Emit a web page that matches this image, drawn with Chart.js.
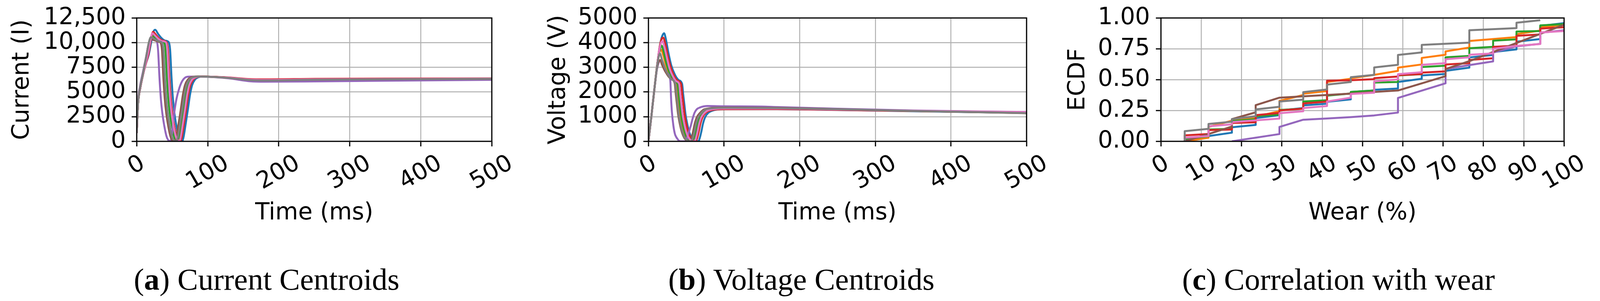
<!DOCTYPE html>
<html><head><meta charset="utf-8">
<script src="https://cdn.jsdelivr.net/npm/chart.js@4/dist/chart.umd.min.js"></script>
<style>
html,body{margin:0;padding:0;background:#fff;width:100%;height:771px;overflow:hidden;position:relative}
canvas{position:absolute;top:0}
.cap{position:absolute;top:676px;text-align:center;font-family:'Liberation Serif',serif;font-size:79px;line-height:80px;color:#000;white-space:nowrap}
</style></head><body>
<canvas id="ca"></canvas>
<canvas id="cb"></canvas>
<canvas id="cc"></canvas>
<div class="cap" id="capa">(<b>a</b>) Current Centroids</div>
<div class="cap" id="capb">(<b>b</b>) Voltage Centroids</div>
<div class="cap" id="capc">(<b>c</b>) Correlation with wear</div>
<script>
// ---------- data ----------
const seriesNames = ['Centroid 1','Centroid 2','Centroid 3','Centroid 4','Centroid 5','Centroid 6','Centroid 7','Centroid 8'];
const seriesColors = ['#1f77b4','#ff7f0e','#2ca02c','#d62728','#9467bd','#8c564b','#e377c2','#7f7f7f'];

const timeTickLabels = ['0','100','200','300','400','500'];
const wearTickLabels = ['0','10','20','30','40','50','60','70','80','90','100'];
const currentTickLabels = ['0','2500','5000','7500','10,000','12,500'];
const voltageTickLabels = ['0','1000','2000','3000','4000','5000'];
const ecdfTickLabels = ['0.00','0.25','0.50','0.75','1.00'];

// Current centroids: [time ms, current]
const currentBlue = [[0,850],[2,3900],[5,5400],[9,6800],[13,7900],[17,8800],[20,9900],[23,11000],[26,11300],[30,10900],[35,10450],[40,10200],[45,10050],[47,9300],[49,6500],[51,4300],[53,2900],[56,1500],[59,500],[62,80],[64,20],[66,450],[69,1800],[72,3200],[75,4700],[78,5700],[82,6250],[87,6500],[93,6570],[100,6560],[130,6450],[160,6260],[180,6230],[250,6290],[350,6330],[500,6360]];
const currentOrange = [[0,850],[2,3900],[5,5400],[9,6800],[13,8100],[17,9600],[20,10500],[22,10650],[26,10450],[31,10200],[35,10080],[39,10000],[41,9300],[43,6500],[45,4300],[47,2900],[50,1500],[53,500],[56,80],[58,20],[60,450],[63,1800],[66,3200],[69,4700],[72,5700],[76,6250],[81,6500],[87,6570],[100,6560],[130,6440],[160,6250],[180,6220],[250,6280],[350,6310],[500,6340]];
const currentGreen = [[0,850],[2,3900],[5,5400],[9,6800],[13,8100],[17,9500],[20,10500],[22,10750],[26,10500],[31,10250],[35,10100],[38.5,10000],[40.5,9300],[42.5,6500],[44.5,4300],[46.5,2900],[49.5,1500],[52.5,500],[55.5,80],[58.5,20],[60.5,450],[63.5,1800],[66.5,3200],[69.5,4700],[72.5,5700],[76.5,6250],[81.5,6500],[87.5,6570],[100,6560],[130,6440],[160,6240],[180,6210],[250,6270],[350,6310],[500,6330]];
const currentRed = [[0,850],[2,3900],[5,5400],[9,6800],[13,7900],[17,9000],[20,10300],[23,11100],[27,10800],[32,10400],[37,10200],[42,10050],[44,9300],[46,6500],[48,4300],[50,2900],[53,1500],[56,500],[59,80],[61.5,20],[63.5,450],[66.5,1800],[69.5,3200],[72.5,4700],[75.5,5700],[79.5,6250],[84.5,6500],[90.5,6570],[100,6560],[130,6470],[160,6300],[180,6280],[250,6330],[350,6360],[500,6370]];
const currentPurple = [[0,850],[2,4100],[5,5700],[9,7100],[13,8500],[17,9900],[20,10400],[24,10250],[28,10150],[30,9300],[32,6500],[34,4300],[36,2900],[39,1500],[42,500],[45,80],[47.5,20],[49.5,700],[52.5,2700],[56,4300],[60,5400],[64,6100],[68,6450],[74,6560],[100,6540],[130,6380],[160,6080],[180,6040],[250,6070],[350,6140],[500,6230]];
const currentBrown = [[0,850],[2,3900],[5,5500],[9,6900],[13,8400],[17,9900],[20,10350],[25,10250],[30,10100],[33.5,10000],[35.5,9300],[37.5,6500],[39.5,4300],[41.5,2900],[44.5,1500],[47.5,500],[50.5,80],[54,20],[56,450],[59,1800],[62,3200],[65,4700],[68,5700],[72,6250],[77,6500],[83,6570],[100,6550],[130,6430],[160,6220],[180,6190],[250,6250],[350,6300],[500,6330]];
const currentPink = [[0,850],[2,3900],[5,5400],[9,6800],[13,8000],[17,9300],[20,10500],[22,10950],[26,10700],[31,10350],[36,10150],[41,10050],[43,9300],[45,6500],[47,4300],[49,2900],[52,1500],[55,500],[58,80],[60,20],[62,450],[65,1800],[68,3200],[71,4700],[74,5700],[78,6250],[83,6500],[89,6570],[100,6560],[130,6450],[160,6250],[180,6220],[250,6280],[350,6320],[500,6340]];
const currentGray = [[0,850],[2,3900],[5,5500],[9,6900],[13,8400],[17,10000],[20,10550],[24,10400],[29,10200],[33,10100],[35.5,10000],[37.5,9300],[39.5,6500],[41.5,4300],[43.5,2900],[46.5,1500],[49.5,500],[52.5,80],[56,20],[58,450],[61,1800],[64,3200],[67,4700],[70,5700],[74,6250],[79,6500],[85,6570],[100,6550],[130,6420],[160,6200],[180,6160],[250,6240],[350,6290],[500,6320]];

// Voltage centroids: [time ms, voltage]
const voltageBlue = [[0,0],[4,1050],[8,2150],[12,3200],[15,3850],[18,4250],[20.7,4380],[23,4150],[26,3650],[30,3100],[35,2700],[40,2480],[44.5,2330],[46,1900],[47.5,1500],[49,1100],[51,750],[54,370],[57,150],[60,40],[63,0],[66,0],[68,150],[70,400],[72,700],[75,980],[79,1150],[85,1250],[100,1300],[170,1300],[250,1270],[350,1220],[500,1150]];
const voltageOrange = [[0,0],[4,1050],[8,2150],[12,3200],[14.5,3600],[16.6,3720],[19.5,3500],[23,3100],[27,2780],[31,2550],[34.5,2420],[37.5,2330],[39,1900],[40.5,1500],[42,1100],[44,750],[47,370],[50,150],[53,40],[56,0],[59,0],[61,150],[63,400],[65,700],[68,980],[72,1150],[78,1290],[100,1345],[170,1340],[250,1290],[350,1230],[500,1160]];
const voltageGreen = [[0,0],[4,1050],[8,2150],[12,3200],[15,3700],[17.3,3880],[20,3650],[23,3250],[27,2850],[32,2550],[35.5,2420],[38.6,2330],[40.1,1900],[41.6,1500],[43.1,1100],[45.1,750],[48.1,370],[51.1,150],[54.1,40],[57,0],[59.2,0],[61.2,150],[63.2,400],[65.2,700],[68.2,980],[72.2,1150],[78.2,1280],[100,1340],[170,1335],[250,1290],[350,1230],[500,1160]];
const voltageRed = [[0,0],[4,1050],[8,2150],[12,3200],[15,3850],[17.5,4150],[19.5,4200],[22,4000],[25,3550],[29,3050],[34,2650],[39,2450],[43.2,2320],[44.7,1900],[46.2,1500],[47.7,1100],[49.7,750],[52.7,370],[55.7,150],[58.7,40],[61,0],[62.6,0],[64.6,150],[66.6,400],[68.6,700],[71.6,980],[75.6,1150],[81.6,1250],[100,1300],[170,1305],[250,1275],[350,1225],[500,1160]];
const voltagePurple = [[0,0],[4,1050],[8,2150],[11.5,2950],[16,3290],[19,3050],[23,2800],[28.8,2500],[30,1700],[31,1200],[33,630],[35,300],[37,160],[42,0],[49,0],[51,140],[53.5,380],[56,630],[58.5,930],[61,1160],[64,1300],[68,1370],[78,1430],[100,1420],[150,1410],[170,1390],[250,1320],[350,1250],[500,1190]];
const voltageBrown = [[0,0],[4,1050],[8,2150],[11.5,3000],[15.5,3290],[18,3100],[22,2850],[28,2580],[34.7,2350],[36.2,1900],[37.7,1500],[39.2,1100],[41.2,750],[44.2,370],[47.2,150],[50.2,40],[53,0],[55.1,0],[57.1,150],[59.1,400],[61.1,700],[64.1,980],[68.1,1150],[74.1,1300],[100,1370],[170,1355],[250,1300],[350,1230],[500,1140]];
const voltagePink = [[0,0],[4,1050],[8,2150],[12,3200],[15,3800],[18.3,4060],[21,3850],[24,3450],[28,2950],[33,2600],[37,2430],[40.6,2330],[42.1,1900],[43.6,1500],[45.1,1100],[47.1,750],[50.1,370],[53.1,150],[56.1,40],[59,0],[61,0],[63,150],[65,400],[67,700],[70,980],[74,1150],[80,1270],[100,1330],[170,1330],[250,1290],[350,1240],[500,1185]];
const voltageGray = [[0,0],[4,1050],[8,2150],[12,3150],[15.2,3560],[18,3300],[22,2950],[26,2700],[30,2520],[35.5,2330],[37,1900],[38.5,1500],[40,1100],[42,750],[45,370],[48,150],[51,40],[54,0],[56.8,0],[58.8,150],[60.8,400],[62.8,700],[65.8,980],[69.8,1150],[75.8,1300],[100,1360],[170,1350],[250,1300],[350,1230],[500,1145]];

// ECDF vs wear: value just before (lo) and just after (hi) each wear step
const wearSteps = [5.9, 11.8, 17.6, 23.5, 29.4, 35.3, 41.2, 47.1, 52.9, 58.8, 64.7, 70.6, 76.5, 82.4, 88.2, 94.1, 100];
const ecdfBlueLo = [0, 0.039, 0.07, 0.133, 0.212, 0.27, 0.305, 0.34, 0.412, 0.428, 0.507, 0.546, 0.597, 0.70, 0.745, 0.829, 0.958];
const ecdfBlueHi = [0.012, 0.043, 0.114, 0.188, 0.25, 0.291, 0.32, 0.40, 0.418, 0.481, 0.534, 0.571, 0.68, 0.724, 0.808, 0.935, 0.958];
const ecdfOrangeLo = [0, 0.029, 0.167, 0.191, 0.244, 0.375, 0.407, 0.507, 0.539, 0.571, 0.623, 0.702, 0.760, 0.829, 0.845, 0.898, 0.945];
const ecdfOrangeHi = [0, 0.117, 0.173, 0.20, 0.328, 0.386, 0.481, 0.51, 0.539, 0.597, 0.676, 0.729, 0.813, 0.829, 0.869, 0.924, 0.945];
const ecdfGreenLo = [0, 0.04, 0.101, 0.18, 0.217, 0.265, 0.333, 0.388, 0.412, 0.481, 0.544, 0.613, 0.692, 0.766, 0.827, 0.894, 0.95];
const ecdfGreenHi = [0.02, 0.096, 0.164, 0.205, 0.254, 0.323, 0.37, 0.40, 0.476, 0.534, 0.602, 0.681, 0.755, 0.816, 0.890, 0.94, 0.95];
const ecdfRedLo = [0, 0.059, 0.096, 0.154, 0.23, 0.265, 0.322, 0.495, 0.504, 0.525, 0.545, 0.567, 0.634, 0.673, 0.775, 0.866, 0.925];
const ecdfRedHi = [0.048, 0.091, 0.149, 0.212, 0.25, 0.307, 0.491, 0.495, 0.512, 0.536, 0.557, 0.623, 0.66, 0.766, 0.855, 0.914, 0.925];
const ecdfPurpleLo = [null, null, 0, null, 0.059, 0.175, 0.185, 0.196, 0.21, 0.233, null, 0.47, 0.618, 0.648, 0.77, 0.79, 0.9];
const ecdfPurpleHi = [null, null, 0, null, 0.117, 0.175, 0.185, 0.196, 0.21, 0.352, null, 0.586, 0.618, 0.72, 0.77, 0.88, 0.9];
const ecdfBrownLo = [0, 0.059, 0.12, 0.235, 0.354, 0.365, 0.376, 0.387, 0.40, 0.412, null, 0.528, 0.65, null, null, null, 0.945];
const ecdfBrownHi = [0, 0.059, 0.18, 0.293, 0.354, 0.365, 0.376, 0.387, 0.40, 0.412, null, 0.586, 0.65, null, null, null, 0.945];
const ecdfPinkLo = [0, 0.043, 0.138, 0.17, 0.184, 0.244, 0.286, 0.354, 0.394, 0.502, 0.56, 0.634, 0.681, 0.713, 0.774, 0.789, 0.894];
const ecdfPinkHi = [0.029, 0.122, 0.156, 0.17, 0.228, 0.27, 0.323, 0.384, 0.486, 0.544, 0.62, 0.665, 0.702, 0.75, 0.774, 0.882, 0.894];
const ecdfGrayLo = [0, 0.101, 0.159, 0.204, 0.280, 0.338, 0.420, 0.481, 0.539, 0.620, 0.721, null, 0.800, null, 0.918, 0.982, null];
const ecdfGrayHi = [0.082, 0.141, 0.180, 0.259, 0.323, 0.399, 0.460, 0.520, 0.599, 0.700, 0.782, null, 0.900, null, 0.961, 0.982, null];

// ---------- layout (reference pixel space, 4169 wide; scaled to the window) ----------
const REF_W = 4169;
const kx = (window.innerWidth || REF_W) / REF_W;
const R = v => Math.round(v * kx);
const FONT = 'DejaVu Sans';
const FS = 60;
const CANVAS_H = 600;
const PLOT_TOP = 46, PLOT_BOTTOM = 362;

function toXY(arr){ return arr.map(p => ({x:p[0], y:p[1]})); }
function stepPoints(lo, hi){
  const pts = [];
  wearSteps.forEach((x,k) => {
    if (lo[k] === null) return;
    pts.push({x:x, y:lo[k]});
    if (hi[k] !== lo[k]) pts.push({x:x, y:hi[k]});
  });
  return pts;
}
function makeDatasets(list, smooth){
  return list.map((pts,i) => ({
    label: seriesNames[i],
    data: pts,
    borderColor: seriesColors[i],
    backgroundColor: seriesColors[i],
    borderWidth: 5,
    pointRadius: 0,
    fill: false,
    tension: 0,
    cubicInterpolationMode: smooth ? 'monotone' : 'default',
    borderJoinStyle: 'round',
    order: 8 - i
  }));
}

const decor = {
  id: 'decor',
  afterDraw(chart, args, o){
    const ctx = chart.ctx, a = chart.chartArea;
    ctx.save();
    ctx.strokeStyle = '#000'; ctx.lineWidth = 3;
    ctx.strokeRect(a.left, a.top, a.right - a.left, a.bottom - a.top);
    const xs = chart.scales.x;
    ctx.font = FS + 'px "' + FONT + '"';
    ctx.fillStyle = '#000';
    ctx.textAlign = 'center';
    ctx.textBaseline = 'middle';
    const th = 30 * Math.PI / 180;
    xs.ticks.forEach((t,i) => {
      const label = o.labels[i];
      const px = xs.getPixelForValue(t.value);
      const w = ctx.measureText(label).width;
      const h = FS * 0.76;
      const bh = w * Math.sin(th) + h * Math.cos(th);
      ctx.save();
      ctx.translate(px, o.labelTop + bh / 2);
      ctx.rotate(-th);
      ctx.fillText(label, 0, 0);
      ctx.restore();
    });
    ctx.textBaseline = 'alphabetic';
    ctx.fillText(o.xTitle, (a.left + a.right) / 2, o.xTitleY);
    ctx.save();
    ctx.translate(o.yTitleX, (a.top + a.bottom) / 2);
    ctx.rotate(-Math.PI / 2);
    ctx.textBaseline = 'middle';
    ctx.fillText(o.yTitle, 0, 0);
    ctx.restore();
    ctx.restore();
  }
};

function makeChart(id, datasets, cfg){
  const cv = document.getElementById(id);
  const left = R(cfg.canvasLeft), right = R(cfg.canvasLeft + cfg.canvasW);
  const w = right - left;
  cv.width = w; cv.height = CANVAS_H;
  cv.style.left = left + 'px'; cv.style.width = w + 'px'; cv.style.height = CANVAS_H + 'px';
  const axisW = R(cfg.plotLeft) - left;
  const padRight = right - R(cfg.plotRight);
  return new Chart(cv, {
    type: 'line',
    data: { datasets: datasets },
    options: {
      responsive: false,
      animation: false,
      devicePixelRatio: 1,
      layout: { padding: { top: PLOT_TOP, right: padRight, left: 0, bottom: 0 } },
      plugins: {
        legend: { display: false },
        tooltip: { enabled: false },
        decor: { labels: cfg.xLabels, labelTop: 395, xTitle: cfg.xTitle, xTitleY: 562, yTitle: cfg.yTitle, yTitleX: R(cfg.yTitleX) - left }
      },
      scales: {
        x: {
          type: 'linear', min: cfg.xMin, max: cfg.xMax,
          afterFit: s => { s.height = CANVAS_H - PLOT_BOTTOM; },
          ticks: { stepSize: cfg.xStep, display: false, autoSkip: false },
          grid: { color: '#b0b0b0', lineWidth: 2.4, tickColor: '#000', tickWidth: 3, tickLength: 13 },
          border: { display: false }
        },
        y: {
          type: 'linear', min: cfg.yMin, max: cfg.yMax,
          afterFit: s => { s.width = axisW; },
          ticks: {
            stepSize: cfg.yStep, autoSkip: false, padding: 15, color: '#000',
            font: { family: FONT, size: FS, lineHeight: 1 },
            callback: (v, i) => cfg.yLabels[i]
          },
          grid: { color: '#b0b0b0', lineWidth: 2.4, tickColor: '#000', tickWidth: 3, tickLength: 13 },
          border: { display: false }
        }
      }
    },
    plugins: [decor]
  });
}

function placeCaption(id, center){
  const el = document.getElementById(id);
  el.style.width = R(1200) + 'px';
  el.style.left = (R(center) - R(600)) + 'px';
}

makeChart('ca',
  makeDatasets([currentBlue,currentOrange,currentGreen,currentRed,currentPurple,currentBrown,currentPink,currentGray].map(toXY), true),
  { canvasLeft: 0, canvasW: 1370, plotLeft: 356, plotRight: 1281, yTitleX: 58,
    xMin:0, xMax:500, xStep:100, yMin:0, yMax:12500, yStep:2500, yLabels: currentTickLabels, xLabels: timeTickLabels,
    xTitle: 'Time (ms)', yTitle: 'Current (I)' });

makeChart('cb',
  makeDatasets([voltageBlue,voltageOrange,voltageGreen,voltageRed,voltagePurple,voltageBrown,voltagePink,voltageGray].map(toXY), true),
  { canvasLeft: 1370, canvasW: 1370, plotLeft: 1690, plotRight: 2675, yTitleX: 1455,
    xMin:0, xMax:500, xStep:100, yMin:0, yMax:5000, yStep:1000, yLabels: voltageTickLabels, xLabels: timeTickLabels,
    xTitle: 'Time (ms)', yTitle: 'Voltage (V)' });

makeChart('cc',
  makeDatasets([
    stepPoints(ecdfBlueLo, ecdfBlueHi), stepPoints(ecdfOrangeLo, ecdfOrangeHi), stepPoints(ecdfGreenLo, ecdfGreenHi),
    stepPoints(ecdfRedLo, ecdfRedHi), stepPoints(ecdfPurpleLo, ecdfPurpleHi), stepPoints(ecdfBrownLo, ecdfBrownHi),
    stepPoints(ecdfPinkLo, ecdfPinkHi), stepPoints(ecdfGrayLo, ecdfGrayHi)], false),
  { canvasLeft: 2740, canvasW: 1429, plotLeft: 3025, plotRight: 4075, yTitleX: 2809,
    xMin:0, xMax:100, xStep:10, yMin:0, yMax:1, yStep:0.25, yLabels: ecdfTickLabels, xLabels: wearTickLabels,
    xTitle: 'Wear (%)', yTitle: 'ECDF' });

placeCaption('capa', 694);
placeCaption('capb', 2088);
placeCaption('capc', 3487);
</script>
</body></html>
